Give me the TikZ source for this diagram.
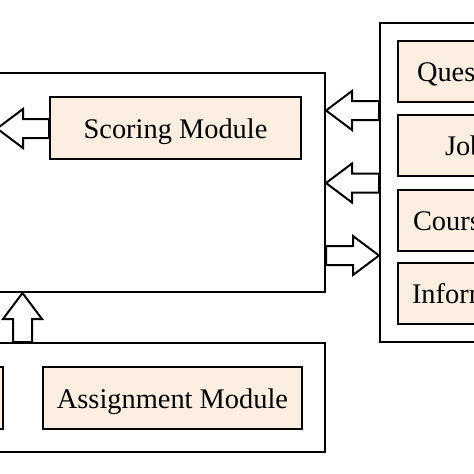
\documentclass[tikz,border=0pt]{standalone}
\usepackage{fontspec}
\setmainfont{Liberation Serif}
\usetikzlibrary{calc}
\definecolor{cream}{HTML}{FCEFE2}
\tikzset{frame/.style={draw, line width=2pt, fill=white}}
\tikzset{module/.style={draw, line width=2pt, fill=cream, minimum height=61pt,
    text height=20pt, text depth=0pt, font=\fontsize{28.4}{30}\selectfont}}
\tikzset{tab/.style={module, anchor=west, text width=120pt, align=left}}
\tikzset{fat/.style={draw, line width=2pt, fill=white, line join=miter}}
% block arrow from #1 (tail) to #2 (tip)
\newcommand{\fatarrow}[2]{%
  \coordinate (fa base) at ($(#2)!26pt!(#1)$);
  \draw[fat] ($(#1)!9.5pt!90:(#2)$) -- ($(fa base)!9.5pt!90:(#2)$)
    -- ($(fa base)!19.5pt!90:(#2)$) -- (#2)
    -- ($(fa base)!19.5pt!-90:(#2)$) -- ($(fa base)!9.5pt!-90:(#2)$)
    -- ($(#1)!9.5pt!-90:(#2)$) -- cycle;
}

\begin{document}
\begin{tikzpicture}[x=1pt,y=-1pt]
\useasboundingbox (0,0) rectangle (474,474);
\clip (0,0) rectangle (474,474);

% boxes
\node[frame, minimum width=345pt, minimum height=219pt] (core) at (152.5,182.5) {};
\node[frame, minimum width=140pt, minimum height=319pt] (side) at (450,182.5) {};
\node[frame, minimum width=345pt, minimum height=109pt] (lower) at (152.5,397.5) {};

\node[module, minimum width=251pt, minimum height=62pt] (score) at (175.5,128) {Scoring Module};
\node[module, minimum width=259pt, minimum height=62pt] (assign) at (172.5,398) {Assignment Module};
\node[module, minimum width=100pt, minimum height=62pt] (other) at (-47,398) {};

\node[tab, inner xsep=19pt] (ques) at (397,71.5) {Ques};
\node[tab, inner xsep=47pt] (job) at (397,145.5) {Job};
\node[tab, inner xsep=15pt] (course) at (397,220) {Cours};
\node[tab, inner xsep=14pt] (info) at (397,293) {Inform};

% arrows
\coordinate (score tip) at (-3,128.5);
\coordinate (score tail) at (score.west |- 0,128.5);
\coordinate (in1 tail) at (side.west |- 0,110.5);
\coordinate (in1 tip) at (core.east |- 0,110.5);
\coordinate (in2 tail) at (side.west |- 0,183);
\coordinate (in2 tip) at (core.east |- 0,183);
\coordinate (out tail) at (core.east |- 0,255.5);
\coordinate (out tip) at (side.west |- 0,255.5);
\coordinate (up tail) at (lower.north -| 22.5,0);
\coordinate (up tip) at (core.south -| 22.5,0);

\fatarrow{score tail}{score tip}
\fatarrow{in1 tail}{in1 tip}
\fatarrow{in2 tail}{in2 tip}
\fatarrow{out tail}{out tip}
\fatarrow{up tail}{up tip}
\end{tikzpicture}
\end{document}
